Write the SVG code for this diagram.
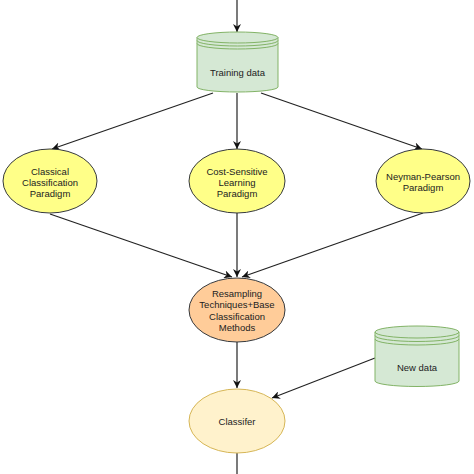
<svg xmlns="http://www.w3.org/2000/svg" width="474" height="474" viewBox="0 0 474 474">
<defs>
<marker id="arr" viewBox="0 0 10 10" refX="10" refY="5" markerWidth="8" markerHeight="8" markerUnits="userSpaceOnUse" orient="auto">
<path d="M0,0 L10,5 L0,10 L3,5 Z" fill="#111"/>
</marker>
</defs>
<style>
text{font-family:"Liberation Sans",Arial,sans-serif;font-size:9.5px;fill:#222;text-anchor:middle}
.cyl{fill:#d5e8d4;stroke:#82b366;stroke-width:1}
.cl{fill:none;stroke:#82b366;stroke-width:1}
.yel{fill:#ffff88;stroke:#36393d;stroke-width:1}
.org{fill:#ffcc99;stroke:#36393d;stroke-width:1}
.cls{fill:#fff2cc;stroke:#d6b656;stroke-width:1}
.e{fill:none;stroke:#222;stroke-width:1.2}
.a{marker-end:url(#arr)}
</style>
<rect width="474" height="474" fill="#fff"/>
<g id="connectors">
<line class="e a" x1="237" y1="0" x2="237" y2="32"/>
<line class="e a" x1="213" y1="93" x2="52" y2="149"/>
<line class="e a" x1="237" y1="93" x2="237" y2="149"/>
<line class="e a" x1="261" y1="93" x2="422" y2="149"/>
<line class="e a" x1="50" y1="214" x2="232" y2="277"/>
<line class="e a" x1="237" y1="213" x2="237" y2="277"/>
<line class="e a" x1="423" y1="213" x2="242" y2="277"/>
<line class="e a" x1="237" y1="342" x2="237" y2="388"/>
<line class="e a" x1="375" y1="358" x2="272" y2="398"/>
<line class="e" x1="237" y1="453" x2="237" y2="474"/>
</g>
<g id="training-data">
<path class="cyl" d="M197,37.5 A40.5,5.5 0 0 1 278,37.5 L278,87 A40.5,5 0 0 1 197,87 Z"/>
<path class="cl" d="M197,37.5 A40.5,5.5 0 0 0 278,37.5 M197,40.5 A40.5,5.5 0 0 0 278,40.5 M197,43.5 A40.5,5.5 0 0 0 278,43.5"/>
<text x="237.5" y="76">Training data</text>
</g>
<g id="classical">
<ellipse class="yel" cx="50" cy="181" rx="47" ry="32"/>
<text x="50" y="175">Classical</text>
<text x="50" y="186">Classification</text>
<text x="50" y="197">Paradigm</text>
</g>
<g id="cost-sensitive">
<ellipse class="yel" cx="237" cy="181" rx="48" ry="32"/>
<text x="237" y="175">Cost-Sensitive</text>
<text x="237" y="186">Learning</text>
<text x="237" y="197">Paradigm</text>
</g>
<g id="neyman-pearson">
<ellipse class="yel" cx="423" cy="181" rx="47" ry="32"/>
<text x="423" y="180">Neyman-Pearson</text>
<text x="423" y="191">Paradigm</text>
</g>
<g id="resampling">
<ellipse class="org" cx="237" cy="310" rx="48" ry="32"/>
<text x="237" y="297">Resampling</text>
<text x="237" y="308">Techniques+Base</text>
<text x="237" y="319.5">Classification</text>
<text x="237" y="331">Methods</text>
</g>
<g id="new-data">
<path class="cyl" d="M375,332 A42,6 0 0 1 459,332 L459,381 A42,5.5 0 0 1 375,381 Z"/>
<path class="cl" d="M375,332 A42,6 0 0 0 459,332 M375,335.5 A42,6 0 0 0 459,335.5 M375,339 A42,6 0 0 0 459,339"/>
<text x="417" y="371">New data</text>
</g>
<g id="classifer">
<ellipse class="cls" cx="237" cy="421" rx="48" ry="32"/>
<text x="237" y="425">Classifer</text>
</g>
</svg>
